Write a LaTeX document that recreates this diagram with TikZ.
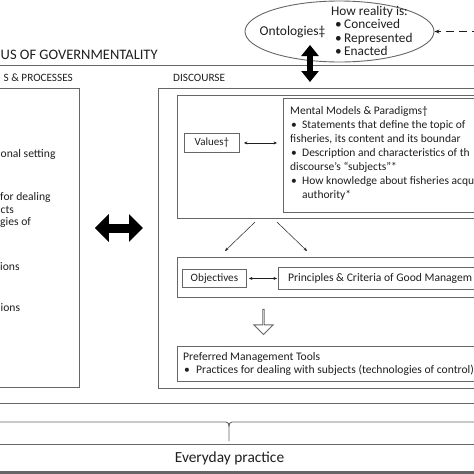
\documentclass[tikz,border=0pt]{standalone}
\usepackage{fontspec}
\setmainfont{Carlito}
\usetikzlibrary{arrows.meta,shapes.geometric,shapes.arrows}

\definecolor{linegray}{HTML}{666666}
\definecolor{inkgray}{HTML}{1E1E1E}
\newcommand{\bl}[2]{\hspace*{#1}\makebox[#2][l]{•}}

\begin{document}
\begin{tikzpicture}[x=1pt,y=-1pt,
	outline/.style={draw=linegray,line width=0.9pt,rectangle,inner sep=0pt,anchor=north west},
	body/.style={font=\fontsize{11.6}{11.6}\selectfont,text=inkgray,inner sep=0pt},
	listing/.style={body,align=left,anchor=north west},
	both tips/.style={{Stealth[length=3.5pt,width=3pt]}-{Stealth[length=3.5pt,width=3pt]},line width=0.5pt,draw=inkgray},
	one tip/.style={-{Stealth[length=3.5pt,width=3pt]},line width=0.5pt,draw=inkgray},
	heavy/.style={line width=#1,draw=black}]

\useasboundingbox (0,0) rectangle (474,474);
\clip (0,0) rectangle (474,474);

% frames and boxes
\node[outline,minimum width=540pt,minimum height=338pt] (frame) at (-20,65) {};
\node[outline,minimum width=99pt,minimum height=299pt] (leftcol) at (-20,88) {};
\node[outline,minimum width=362pt,minimum height=300pt] (discourse) at (158,88) {};
\node[outline,minimum width=343pt,minimum height=123pt] (inner) at (177,95) {};
\node[outline,minimum width=55pt,minimum height=19pt,body,font=\fontsize{11}{11}\selectfont] (values) at (184,133) {Values†};
\node[outline,minimum width=237pt,minimum height=114pt] (mental) at (283,98) {};
\node[outline,minimum width=343pt,minimum height=40pt] (objrow) at (177,257) {};
\node[outline,minimum width=64pt,minimum height=18pt,body,font=\fontsize{11.2}{11.2}\selectfont] (objectives) at (182,269) {Objectives};
\node[outline,minimum width=242pt,minimum height=22pt] (principles) at (278,267) {};
\node[outline,minimum width=343pt,minimum height=35pt] (tools) at (177,346) {};
\node[draw=linegray,line width=0.9pt,ellipse,minimum width=189pt,minimum height=61pt,inner sep=0pt] (ontology) at (339.5,31.5) {};

% headings
\node[body,font=\fontsize{14.5}{14.5}\selectfont,anchor=base west] (title) at (0.5,59) {US OF GOVERNMENTALITY};
\node[body,font=\fontsize{11.2}{11.2}\selectfont,anchor=east] (proc) at (73,78) {S \& PROCESSES};
\node[body,font=\fontsize{11.2}{11.2}\selectfont,anchor=west] (disc) at (173,78) {DISCOURSE};

% left column, cut at the edge
\node[body,anchor=west] (l1) at (0.5,154) {onal setting};
\node[body,anchor=west] (l2) at (0,197) {for dealing};
\node[body,anchor=west] (l3) at (0.5,209.5) {cts};
\node[body,anchor=west] (l4) at (0,223) {gies of};
\node[body,anchor=west] (l5) at (0,266.5) {ions};
\node[body,anchor=west] (l6) at (0.5,308) {ions};

% texts in the boxes
\node[body,font=\fontsize{13.5}{13.5}\selectfont] (onto) at (292.5,32) {Ontologies‡};
\node[listing,font=\fontsize{13.3}{13.5}\selectfont] (reality) at (331,6)
	{How reality is:\\ \bl{4pt}{9pt}Conceived\\ \bl{4pt}{9pt}Represented\\ \bl{4pt}{9pt}Enacted};
\node[listing,font=\fontsize{11.5}{13.9}\selectfont] (models) at (290,106.8)
	{Mental Models \& Paradigms†\\
	\bl{1pt}{11pt}Statements that define the topic of\\
	fisheries, its content and its boundar\\
	\bl{1pt}{11pt}Description and characteristics of th\\
	discourse’s “subjects”*\\
	\bl{1pt}{11pt}How knowledge about fisheries acqu\\
	\hspace*{12pt}authority*};
\node[body,anchor=west] (crit) at (288,278) {Principles \& Criteria of Good Managem};
\node[listing,font=\fontsize{11.6}{13}\selectfont] (toolstext) at (183,352.5)
	{Preferred Management Tools\\
	\bl{1pt}{12pt}Practices for dealing with subjects (technologies of control)};

% connectors
\coordinate (feed) at (480,31.5);
\draw[draw=inkgray,line width=1pt,dash pattern=on 8pt off 5pt,-{Stealth[length=5pt,width=4pt]}] (feed) -- (ontology.east);
\coordinate (vtop) at (310,45);
\draw[heavy=6pt,{Triangle[length=11pt,width=17pt]}-{Triangle[length=11pt,width=17pt]},shorten >=6pt] (vtop) -- (discourse.north -| vtop);
\coordinate (hmid) at (118,228);
\draw[heavy=9pt,{Triangle[length=14pt,width=27pt]}-{Triangle[length=14pt,width=27pt]},shorten <=15pt,shorten >=15pt] (leftcol.east |- hmid) -- (discourse.west |- hmid);
\draw[both tips,shorten <=4pt,shorten >=6pt] (values.east) -- (values.east -| mental.west);
\draw[both tips,shorten <=2pt,shorten >=1pt] (objectives.east) -- (objectives.east -| principles.west);
\coordinate (split a) at (255,222);
\coordinate (split b) at (277,222);
\coordinate (join a) at (225,251);
\coordinate (join b) at (307,251);
\draw[one tip] (split a) -- (join a);
\draw[one tip] (split b) -- (join b);
\node[single arrow,shape border rotate=270,draw=linegray,line width=0.9pt,fill=white,
	minimum height=25pt,minimum width=19pt,single arrow head extend=5pt,inner sep=0pt] (handover) at (263.5,321.5) {};

% everyday practice
\draw[draw=linegray,line width=0.9pt] (-20,422) -- (226,422)
	.. controls (228.5,422) and (229,424) .. (229,427) -- (229,441)
	(229,427) .. controls (229,424) and (229.5,422) .. (232,422) -- (520,422);
\draw[draw=linegray,line width=0.9pt] (-20,444.5) -- (520,444.5);
\node[body,font=\fontsize{15.4}{15.4}\selectfont] (practice) at (229.5,458) {Everyday practice};
\fill[linegray] (-20,471) rectangle (520,476);
\end{tikzpicture}
\end{document}
